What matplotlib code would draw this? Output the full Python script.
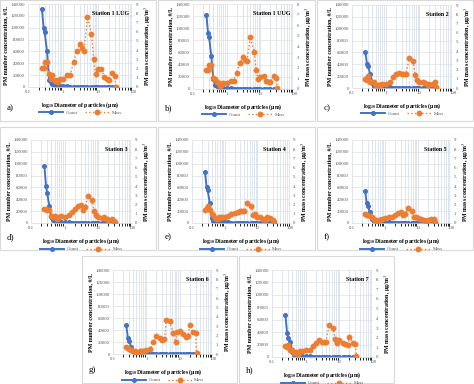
import numpy as np
import matplotlib
matplotlib.use("Agg")
import matplotlib.pyplot as plt
from matplotlib.patches import Rectangle
from matplotlib.ticker import FixedLocator, NullFormatter

plt.rcParams['font.family'] = ['Liberation Serif', 'DejaVu Serif']
plt.rcParams['mathtext.fontset'] = 'stix'

# particle size bins (um)
diam = [0.25, 0.28, 0.30, 0.35, 0.40, 0.45, 0.50, 0.58, 0.65, 0.70, 0.80, 1.0, 1.3, 1.6,
        2.0, 2.5, 3.0, 3.5, 4.0, 5.0, 6.5, 7.5, 8.5, 10, 12.5, 15, 17.5, 20, 25, 30, 32]

tail = [1200, 1000, 800, 700, 600, 500, 450, 400, 350, 300, 250, 200, 150, 120, 100, 80, 60, 50, 40, 30]

count_a = [132000, 99000, 92000, 60000, 12000, 8000, 5000, 3500, 2500, 2000, 1500] + tail
count_b = [122000, 92000, 86000, 54000, 17000, 7000, 5000, 3500, 2500, 2000, 1500] + tail
count_c = [60000, 40000, 37000, 23000, 8000, 4000, 2500, 2000, 1500, 1200, 1000] + tail
count_d = [96000, 62000, 51000, 29000, 10000, 5000, 3000, 2000, 1500, 1200, 1000] + tail
count_e = [86000, 60000, 56000, 33000, 8000, 4000, 2500, 2000, 1500, 1200, 1000] + tail
count_f = [54000, 33000, 29000, 18000, 6000, 3500, 2500, 2000, 1500, 1200, 1000] + tail
count_g = [48000, 26000, 22000, 12000, 5000, 3000, 2000, 1500, 1200, 1000, 900] + tail
count_h = [68000, 39000, 31000, 24000, 8000, 4000, 2500, 2000, 1500, 1200, 1000] + tail

mass_a = [2.1, 2.1, 2.7, 2.7, 1.4, 0.9, 1.3, 0.6, 0.8, 0.5, 0.9, 0.9, 1.3, 1.3, 2.7, 3.9,
          4.7, 4.2, 3.9, 7.6, 5.8, 3.0, 1.4, 2.0, 1.9, 1.1, 0.9, 0.8, 1.5, 1.2, 0.05]
mass_b = [1.75, 1.8, 2.3, 2.3, 1.0, 0.9, 0.7, 0.55, 0.25, 0.4, 0.55, 0.6, 0.8, 0.8, 1.55, 2.45,
          3.0, 2.75, 2.6, 4.9, 3.5, 1.75, 0.9, 1.1, 1.2, 0.8, 0.7, 0.7, 1.25, 1.0, 0.1]
mass_c = [1.0, 0.9, 1.25, 0.7, 0.6, 0.7, 0.35, 0.3, 0.35, 0.35, 0.45, 0.45, 0.7, 1.2, 1.55, 1.6,
          1.55, 1.55, 1.55, 3.2, 2.9, 1.45, 0.9, 0.7, 0.7, 0.55, 0.35, 0.4, 0.4, 0.6, 0.1]
mass_d = [1.55, 1.55, 1.45, 1.45, 0.8, 0.7, 0.8, 0.45, 0.55, 0.6, 0.8, 0.7, 0.9, 1.2, 1.55, 1.8,
          2.0, 1.45, 1.7, 2.9, 2.5, 1.25, 0.9, 0.7, 0.55, 0.6, 0.45, 0.35, 0.45, 0.25, 0.1]
mass_e = [1.45, 1.6, 1.8, 1.45, 1.0, 0.9, 0.55, 0.45, 0.6, 0.55, 0.6, 0.7, 0.8, 1.0, 1.1, 1.2,
          1.3, 1.25, 1.25, 2.15, 1.8, 0.9, 1.0, 0.7, 0.6, 0.45, 0.35, 0.7, 0.55, 0.3, 0.1]
mass_f = [0.95, 0.9, 0.9, 0.8, 0.6, 0.45, 0.35, 0.25, 0.35, 0.3, 0.45, 0.55, 0.6, 0.7, 0.9, 1.1,
          1.2, 0.9, 0.95, 1.6, 1.3, 0.7, 0.6, 0.55, 0.45, 0.35, 0.25, 0.35, 0.45, 0.4, 0.1]
mass_g = [0.8, 0.65, 0.55, 0.45, 0.3, 0.35, 0.2, 0.1, 0.3, 0.3, 0.3, 0.45, 0.5, 1.3, 1.9, 1.7,
          1.5, 1.65, 3.65, 3.5, 2.2, 1.3, 2.4, 2.5, 2.1, 1.8, 1.9, 3.1, 2.35, 2.3, 0.1]
mass_h = [1.15, 1.05, 1.2, 0.75, 0.7, 0.45, 0.5, 0.35, 0.5, 0.6, 0.6, 0.7, 0.7, 1.15, 1.5, 1.75,
          1.55, 1.6, 1.6, 3.35, 3.0, 1.9, 1.5, 1.75, 1.5, 1.3, 1.2, 2.05, 1.5, 1.3, 0.15]

stations = ['Station 1 LUG', 'Station 1 UUG', 'Station 2', 'Station 3',
            'Station 4', 'Station 5', 'Station 6', 'Station 7']
letters = ['a)', 'b)', 'c)', 'd)', 'e)', 'f)', 'g)', 'h)']
mass_max = [9, 8, 9, 9, 9, 9, 9, 9]
counts = [count_a, count_b, count_c, count_d, count_e, count_f, count_g, count_h]
masses = [mass_a, mass_b, mass_c, mass_d, mass_e, mass_f, mass_g, mass_h]

# panel boxes and plot areas in pixels (left, top, right, bottom)
boxes = [(0, 0, 156, 121), (158, 0, 315, 121), (317, 0, 473, 121),
         (0, 127, 156, 250), (158, 127, 315, 250), (317, 127, 473, 250),
         (82, 256, 237, 383), (239, 256, 394, 383)]
areas = [(28, 4, 133, 87), (193, 4, 294, 89), (352, 5, 453, 88),
         (31, 140, 132, 223), (192, 140, 290, 223), (352, 140, 451, 223),
         (113, 270, 213, 354), (272, 270, 373, 357)]

W, H = 474, 384
fig = plt.figure(figsize=(W / 100, H / 100), dpi=100)

blue = '#4472C4'
orange = '#ED7D31'

for i in range(8):
    bl, bt, br, bb = boxes[i]
    fig.patches.append(Rectangle((bl / W, 1 - bb / H), (br - bl) / W, (bb - bt) / H,
                                 transform=fig.transFigure, fill=False,
                                 edgecolor='#d9d9d9', lw=0.8))
    l, t, r, b = areas[i]
    ax = fig.add_axes([l / W, 1 - b / H, (r - l) / W, (b - t) / H])
    ax2 = ax.twinx()

    ax.set_xscale('log')
    ax.set_xlim(0.1, 100)
    ax.set_ylim(0, 140000)
    ax.set_yticks(np.arange(0, 140001, 20000))
    ax.set_xticks([0.1, 1, 10, 100])
    ax.set_xticklabels(['0.1', '1', '10', '100'])
    ax.xaxis.set_minor_locator(FixedLocator(
        [m * 10.0 ** e for e in (-1, 0, 1) for m in range(2, 10)]))
    ax.xaxis.set_minor_formatter(NullFormatter())
    ax.grid(True, which='major', axis='y', color='#e0e0e0', lw=0.5)
    ax.grid(True, which='both', axis='x', color='#ccd8e6', lw=0.45)
    ax.set_axisbelow(True)

    ax2.set_ylim(0, mass_max[i])
    ax2.set_yticks(range(0, mass_max[i] + 1))

    for a in (ax, ax2):
        for s in a.spines.values():
            s.set_visible(False)
        a.tick_params(length=0, labelsize=3.5, colors='#595959', pad=2)
    ax.spines['bottom'].set_visible(True)
    ax.spines['bottom'].set_color('#d9d9d9')
    ax.spines['bottom'].set_linewidth(0.5)

    lc, = ax.plot(diam, counts[i], color=blue, lw=1.4, marker='o', ms=2.6, label='Count')
    lm, = ax2.plot(diam, masses[i], color=orange, lw=1.0, ls=':', marker='o', ms=3.2,
                   label='Mass')
    ax.set_zorder(1)
    ax2.set_zorder(2)
    ax2.patch.set_visible(False)

    ax.set_ylabel('PM number concentration, #/L', fontsize=4.3, fontweight='bold', labelpad=2)
    ax2.set_ylabel('PM mass concentration, µg/m$^3$', fontsize=4.3, fontweight='bold',
                   labelpad=3, rotation=90)
    ax.set_xlabel(r'log$_{\mathbf{10}}$ Diameter of particles (µm)', fontsize=4.1,
                  fontweight='bold', labelpad=4)
    ax.text(0.96, 0.92, stations[i], transform=ax.transAxes, ha='right', va='top',
            fontsize=4.3, fontweight='bold')

    fig.legend([lc, lm], ['Count', 'Mass'], loc='center',
               bbox_to_anchor=((l + r) / 2 / W, 1 - (b + 26) / H), ncol=2,
               frameon=False, fontsize=3.5, handlelength=5, columnspacing=1.5,
               handletextpad=0.5, labelcolor='#595959')
    fig.text((bl + 7) / W, 1 - (bb - 13) / H, letters[i], fontsize=6.5,
             ha='left', va='center')

fig.savefig('out.png', dpi=100)
